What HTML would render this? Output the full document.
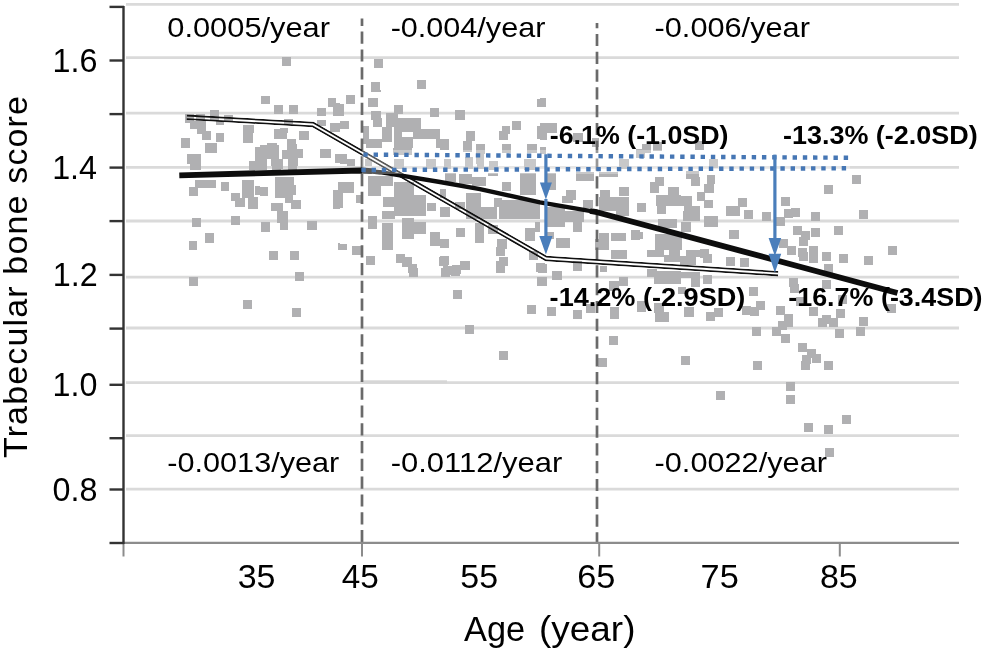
<!DOCTYPE html>
<html><head><meta charset="utf-8"><style>
html,body{margin:0;padding:0;background:#fff;}
body{width:986px;height:650px;overflow:hidden;position:relative;}
svg{position:absolute;left:0;top:0;}
</style></head><body>
<svg width="986" height="650" viewBox="0 0 986 650">
<line x1="126" y1="4.3" x2="959" y2="4.3" stroke="#dadada" stroke-width="2.8"/>
<line x1="126" y1="57.7" x2="959" y2="57.7" stroke="#dadada" stroke-width="2.8"/>
<line x1="126" y1="113.1" x2="959" y2="113.1" stroke="#dadada" stroke-width="2.8"/>
<line x1="126" y1="167.3" x2="959" y2="167.3" stroke="#dadada" stroke-width="2.8"/>
<line x1="126" y1="221.0" x2="959" y2="221.0" stroke="#dadada" stroke-width="2.8"/>
<line x1="126" y1="277.1" x2="959" y2="277.1" stroke="#dadada" stroke-width="2.8"/>
<line x1="126" y1="328.0" x2="959" y2="328.0" stroke="#dadada" stroke-width="2.8"/>
<line x1="126" y1="382.7" x2="959" y2="382.7" stroke="#dadada" stroke-width="2.8"/>
<line x1="126" y1="435.6" x2="959" y2="435.6" stroke="#dadada" stroke-width="2.8"/>
<line x1="126" y1="489.1" x2="959" y2="489.1" stroke="#dadada" stroke-width="2.8"/>
<rect x="362" y="380.3" width="85" height="3.2" fill="#d6d6d6"/>
<g fill="#b0b0b2" shape-rendering="crispEdges"><rect x="281.7" y="57.0" width="9.0" height="9.0"/><rect x="374.0" y="59.3" width="9.0" height="9.0"/><rect x="370.9" y="82.4" width="9.0" height="9.0"/><rect x="416.8" y="79.6" width="9.0" height="9.0"/><rect x="268.6" y="250.9" width="9.0" height="9.0"/><rect x="290.1" y="250.9" width="9.0" height="9.0"/><rect x="189.3" y="277.0" width="9.0" height="9.0"/><rect x="294.7" y="271.7" width="9.0" height="9.0"/><rect x="243.2" y="300.1" width="9.0" height="9.0"/><rect x="291.7" y="307.8" width="9.0" height="9.0"/><rect x="642.4" y="144.0" width="9.0" height="9.0"/><rect x="653.2" y="142.4" width="9.0" height="9.0"/><rect x="636.3" y="148.6" width="9.0" height="9.0"/><rect x="694.7" y="140.9" width="9.0" height="9.0"/><rect x="708.6" y="159.3" width="9.0" height="9.0"/><rect x="737.8" y="197.8" width="9.0" height="9.0"/><rect x="744.0" y="210.1" width="9.0" height="9.0"/><rect x="851.7" y="174.7" width="9.0" height="9.0"/><rect x="824.0" y="184.7" width="9.0" height="9.0"/><rect x="780.9" y="197.0" width="9.0" height="9.0"/><rect x="790.9" y="207.8" width="9.0" height="9.0"/><rect x="784.0" y="209.3" width="9.0" height="9.0"/><rect x="776.3" y="217.0" width="9.0" height="9.0"/><rect x="762.4" y="212.4" width="9.0" height="9.0"/><rect x="810.9" y="212.4" width="9.0" height="9.0"/><rect x="859.3" y="210.1" width="9.0" height="9.0"/><rect x="793.2" y="226.3" width="9.0" height="9.0"/><rect x="800.9" y="230.9" width="9.0" height="9.0"/><rect x="810.9" y="227.8" width="9.0" height="9.0"/><rect x="834.0" y="225.5" width="9.0" height="9.0"/><rect x="799.3" y="237.0" width="9.0" height="9.0"/><rect x="779.3" y="238.6" width="9.0" height="9.0"/><rect x="787.0" y="246.3" width="9.0" height="9.0"/><rect x="797.8" y="247.8" width="9.0" height="9.0"/><rect x="808.6" y="246.3" width="9.0" height="9.0"/><rect x="821.7" y="252.4" width="9.0" height="9.0"/><rect x="838.6" y="254.0" width="9.0" height="9.0"/><rect x="864.0" y="255.5" width="9.0" height="9.0"/><rect x="887.8" y="246.3" width="9.0" height="9.0"/><rect x="799.3" y="252.0" width="9.0" height="9.0"/><rect x="808.6" y="254.0" width="9.0" height="9.0"/><rect x="824.0" y="264.3" width="9.0" height="9.0"/><rect x="788.6" y="278.2" width="9.0" height="9.0"/><rect x="790.1" y="284.3" width="9.0" height="9.0"/><rect x="822.4" y="279.7" width="9.0" height="9.0"/><rect x="748.6" y="286.7" width="9.0" height="9.0"/><rect x="756.3" y="301.3" width="9.0" height="9.0"/><rect x="750.1" y="307.4" width="9.0" height="9.0"/><rect x="776.3" y="305.9" width="9.0" height="9.0"/><rect x="784.0" y="313.6" width="9.0" height="9.0"/><rect x="784.0" y="318.2" width="9.0" height="9.0"/><rect x="777.8" y="321.3" width="9.0" height="9.0"/><rect x="771.7" y="327.4" width="9.0" height="9.0"/><rect x="780.9" y="333.6" width="9.0" height="9.0"/><rect x="751.7" y="327.4" width="9.0" height="9.0"/><rect x="808.6" y="307.4" width="9.0" height="9.0"/><rect x="796.3" y="296.7" width="9.0" height="9.0"/><rect x="837.8" y="295.1" width="9.0" height="9.0"/><rect x="836.3" y="309.0" width="9.0" height="9.0"/><rect x="822.4" y="315.1" width="9.0" height="9.0"/><rect x="817.8" y="318.2" width="9.0" height="9.0"/><rect x="828.6" y="318.2" width="9.0" height="9.0"/><rect x="834.7" y="329.0" width="9.0" height="9.0"/><rect x="859.3" y="316.7" width="9.0" height="9.0"/><rect x="856.3" y="327.4" width="9.0" height="9.0"/><rect x="887.0" y="304.3" width="9.0" height="9.0"/><rect x="797.8" y="342.8" width="9.0" height="9.0"/><rect x="807.0" y="349.0" width="9.0" height="9.0"/><rect x="801.5" y="354.5" width="9.0" height="9.0"/><rect x="811.5" y="353.5" width="9.0" height="9.0"/><rect x="800.5" y="360.5" width="9.0" height="9.0"/><rect x="823.5" y="360.5" width="9.0" height="9.0"/><rect x="752.5" y="360.5" width="9.0" height="9.0"/><rect x="785.5" y="381.5" width="9.0" height="9.0"/><rect x="785.5" y="394.5" width="9.0" height="9.0"/><rect x="803.5" y="422.5" width="9.0" height="9.0"/><rect x="823.5" y="424.5" width="9.0" height="9.0"/><rect x="841.5" y="414.5" width="9.0" height="9.0"/><rect x="824.5" y="447.5" width="9.0" height="9.0"/><rect x="703.2" y="253.6" width="9.0" height="9.0"/><rect x="700.1" y="249.0" width="9.0" height="9.0"/><rect x="726.3" y="256.7" width="9.0" height="9.0"/><rect x="740.1" y="258.2" width="9.0" height="9.0"/><rect x="703.2" y="275.1" width="9.0" height="9.0"/><rect x="714.0" y="307.5" width="9.0" height="9.0"/><rect x="741.7" y="305.9" width="9.0" height="9.0"/><rect x="706.3" y="312.4" width="9.0" height="9.0"/><rect x="609.3" y="336.3" width="9.0" height="9.0"/><rect x="597.8" y="357.8" width="9.0" height="9.0"/><rect x="680.9" y="355.5" width="9.0" height="9.0"/><rect x="716.3" y="390.9" width="9.0" height="9.0"/><rect x="496.3" y="246.7" width="9.0" height="9.0"/><rect x="499.3" y="257.4" width="9.0" height="9.0"/><rect x="496.3" y="263.6" width="9.0" height="9.0"/><rect x="528.6" y="251.3" width="9.0" height="9.0"/><rect x="537.8" y="263.6" width="9.0" height="9.0"/><rect x="460.9" y="260.5" width="9.0" height="9.0"/><rect x="451.7" y="265.1" width="9.0" height="9.0"/><rect x="573.2" y="262.0" width="9.0" height="9.0"/><rect x="551.7" y="271.3" width="9.0" height="9.0"/><rect x="537.8" y="277.4" width="9.0" height="9.0"/><rect x="351.7" y="245.9" width="9.0" height="9.0"/><rect x="366.3" y="255.9" width="9.0" height="9.0"/><rect x="395.5" y="253.6" width="9.0" height="9.0"/><rect x="403.2" y="256.7" width="9.0" height="9.0"/><rect x="407.8" y="264.3" width="9.0" height="9.0"/><rect x="440.1" y="255.9" width="9.0" height="9.0"/><rect x="443.2" y="265.9" width="9.0" height="9.0"/><rect x="460.1" y="261.3" width="9.0" height="9.0"/><rect x="402.2" y="258.3" width="9.0" height="9.0"/><rect x="409.3" y="268.3" width="9.0" height="9.0"/><rect x="439.1" y="256.9" width="9.0" height="9.0"/><rect x="440.5" y="268.3" width="9.0" height="9.0"/><rect x="450.5" y="266.9" width="9.0" height="9.0"/><rect x="460.5" y="261.2" width="9.0" height="9.0"/><rect x="496.0" y="261.2" width="9.0" height="9.0"/><rect x="453.3" y="289.6" width="9.0" height="9.0"/><rect x="535.7" y="262.6" width="9.0" height="9.0"/><rect x="537.1" y="276.8" width="9.0" height="9.0"/><rect x="552.8" y="271.1" width="9.0" height="9.0"/><rect x="572.7" y="261.2" width="9.0" height="9.0"/><rect x="527.2" y="305.2" width="9.0" height="9.0"/><rect x="547.1" y="306.6" width="9.0" height="9.0"/><rect x="572.7" y="309.5" width="9.0" height="9.0"/><rect x="585.5" y="303.8" width="9.0" height="9.0"/><rect x="464.7" y="325.1" width="9.0" height="9.0"/><rect x="498.8" y="350.7" width="9.0" height="9.0"/><rect x="368.3" y="176.2" width="24.6" height="9.9"/><rect x="368.3" y="186.0" width="12.3" height="9.9"/><rect x="394.2" y="182.3" width="19.7" height="33.3"/><rect x="413.9" y="194.6" width="12.3" height="20.9"/><rect x="383.1" y="197.1" width="12.3" height="9.9"/><rect x="381.9" y="210.6" width="13.5" height="8.6"/><rect x="368.3" y="215.6" width="8.6" height="13.5"/><rect x="381.9" y="223.0" width="11.1" height="27.1"/><rect x="401.6" y="218.0" width="12.3" height="20.9"/><rect x="412.7" y="221.7" width="13.5" height="12.3"/><rect x="427.4" y="203.3" width="8.6" height="7.4"/><rect x="429.9" y="231.6" width="10.1" height="14.8"/><rect x="340.0" y="182.3" width="13.5" height="11.1"/><rect x="340.0" y="193.4" width="2.5" height="14.8"/><rect x="356.0" y="194.6" width="7.4" height="8.6"/><rect x="340.0" y="243.9" width="7.4" height="6.2"/><rect x="352.3" y="246.4" width="7.4" height="3.7"/><rect x="209.5" y="110.3" width="9.8" height="10.5"/><rect x="184.9" y="114.0" width="9.2" height="8.6"/><rect x="196.0" y="114.0" width="9.2" height="7.4"/><rect x="224.3" y="115.2" width="8.6" height="6.8"/><rect x="189.8" y="121.4" width="16.0" height="8.0"/><rect x="197.2" y="126.9" width="8.6" height="7.4"/><rect x="202.2" y="130.6" width="8.6" height="9.2"/><rect x="215.7" y="133.1" width="8.6" height="9.2"/><rect x="181.2" y="138.0" width="9.2" height="9.8"/><rect x="204.6" y="142.9" width="12.3" height="9.8"/><rect x="242.8" y="124.5" width="11.1" height="8.6"/><rect x="242.8" y="131.8" width="9.8" height="11.1"/><rect x="215.7" y="120.8" width="8.6" height="4.3"/><rect x="186.8" y="154.0" width="14.2" height="9.8"/><rect x="189.8" y="162.6" width="11.1" height="7.4"/><rect x="255.1" y="146.6" width="4.9" height="17.2"/><rect x="248.9" y="161.4" width="11.1" height="8.6"/><rect x="261.2" y="95.5" width="8.6" height="8.6"/><rect x="273.5" y="105.4" width="9.2" height="8.6"/><rect x="288.9" y="105.4" width="9.2" height="8.6"/><rect x="317.2" y="107.8" width="9.2" height="8.6"/><rect x="327.7" y="98.0" width="8.6" height="8.6"/><rect x="332.6" y="102.9" width="7.4" height="13.5"/><rect x="284.0" y="118.9" width="8.6" height="4.9"/><rect x="317.2" y="120.2" width="8.6" height="5.5"/><rect x="330.2" y="123.2" width="9.8" height="8.6"/><rect x="273.5" y="129.4" width="13.5" height="9.8"/><rect x="279.7" y="128.2" width="8.6" height="4.9"/><rect x="299.4" y="130.6" width="9.2" height="9.2"/><rect x="286.5" y="138.6" width="9.2" height="9.2"/><rect x="260.0" y="145.4" width="18.5" height="13.5"/><rect x="267.4" y="142.9" width="9.8" height="4.9"/><rect x="260.0" y="156.5" width="7.4" height="9.8"/><rect x="271.1" y="156.5" width="7.4" height="9.8"/><rect x="282.2" y="150.3" width="9.8" height="8.6"/><rect x="292.0" y="149.1" width="11.1" height="8.6"/><rect x="287.1" y="144.2" width="9.8" height="7.4"/><rect x="274.8" y="158.9" width="8.6" height="9.8"/><rect x="288.3" y="156.5" width="9.8" height="9.8"/><rect x="320.3" y="149.1" width="11.1" height="8.6"/><rect x="335.1" y="154.0" width="4.9" height="8.6"/><rect x="260.0" y="163.8" width="7.4" height="6.2"/><rect x="272.3" y="165.1" width="8.6" height="4.9"/><rect x="288.3" y="165.1" width="8.6" height="4.9"/><rect x="370.8" y="90.0" width="9.9" height="1.8"/><rect x="345.5" y="94.9" width="9.9" height="9.2"/><rect x="368.3" y="98.0" width="9.2" height="8.6"/><rect x="394.2" y="104.8" width="9.2" height="9.2"/><rect x="429.9" y="107.9" width="9.2" height="9.2"/><rect x="340.0" y="103.5" width="4.3" height="12.9"/><rect x="370.8" y="110.9" width="9.9" height="8.6"/><rect x="373.3" y="118.3" width="8.6" height="8.6"/><rect x="385.6" y="113.4" width="12.3" height="13.5"/><rect x="381.9" y="126.9" width="9.9" height="14.8"/><rect x="394.2" y="118.3" width="27.1" height="13.5"/><rect x="394.2" y="131.9" width="7.4" height="16.0"/><rect x="412.7" y="131.9" width="8.6" height="7.4"/><rect x="401.6" y="136.8" width="11.1" height="11.1"/><rect x="421.3" y="129.4" width="18.5" height="9.9"/><rect x="340.0" y="120.8" width="9.2" height="8.6"/><rect x="363.4" y="125.7" width="5.5" height="18.5"/><rect x="365.9" y="139.3" width="16.0" height="8.6"/><rect x="436.1" y="139.3" width="3.9" height="8.6"/><rect x="393.0" y="147.9" width="18.5" height="7.4"/><rect x="364.6" y="159.0" width="7.4" height="7.4"/><rect x="394.2" y="159.0" width="9.9" height="9.9"/><rect x="426.2" y="159.0" width="9.9" height="9.9"/><rect x="340.0" y="154.0" width="7.4" height="9.9"/><rect x="347.4" y="159.0" width="7.4" height="7.4"/><rect x="455.4" y="110.3" width="9.2" height="9.2"/><rect x="536.7" y="98.6" width="3.3" height="8.6"/><rect x="501.6" y="125.7" width="8.6" height="8.6"/><rect x="498.5" y="130.6" width="9.2" height="9.2"/><rect x="512.0" y="121.4" width="9.2" height="8.6"/><rect x="465.9" y="131.3" width="9.2" height="9.2"/><rect x="463.4" y="140.5" width="8.6" height="11.1"/><rect x="440.0" y="138.6" width="9.2" height="11.7"/><rect x="475.7" y="144.2" width="9.2" height="9.9"/><rect x="475.7" y="154.0" width="8.6" height="9.9"/><rect x="501.6" y="144.2" width="9.2" height="8.6"/><rect x="527.4" y="144.2" width="9.9" height="8.6"/><rect x="536.7" y="125.7" width="3.3" height="13.5"/><rect x="443.7" y="159.0" width="7.4" height="9.9"/><rect x="464.6" y="156.5" width="8.6" height="12.3"/><rect x="476.9" y="159.0" width="7.4" height="9.9"/><rect x="489.3" y="161.4" width="8.6" height="8.6"/><rect x="523.7" y="159.0" width="12.3" height="11.1"/><rect x="540.0" y="98.0" width="6.2" height="8.6"/><rect x="540.0" y="123.3" width="16.6" height="9.2"/><rect x="540.0" y="130.6" width="7.4" height="9.2"/><rect x="573.3" y="133.1" width="9.2" height="8.6"/><rect x="591.7" y="138.0" width="7.4" height="8.6"/><rect x="540.0" y="146.7" width="6.2" height="7.4"/><rect x="618.8" y="159.0" width="9.9" height="9.9"/><rect x="194.8" y="179.8" width="20.9" height="8.6"/><rect x="189.2" y="187.2" width="9.2" height="9.2"/><rect x="220.6" y="182.3" width="8.6" height="8.6"/><rect x="230.5" y="192.8" width="9.8" height="8.6"/><rect x="235.4" y="198.3" width="9.2" height="8.6"/><rect x="241.5" y="179.8" width="12.3" height="18.5"/><rect x="248.3" y="197.1" width="9.2" height="12.3"/><rect x="255.1" y="186.0" width="4.9" height="8.6"/><rect x="191.7" y="218.0" width="9.2" height="9.2"/><rect x="230.5" y="215.5" width="9.2" height="9.2"/><rect x="204.6" y="233.4" width="9.2" height="9.2"/><rect x="189.2" y="240.8" width="7.4" height="9.2"/><rect x="260.0" y="186.6" width="8.0" height="9.2"/><rect x="274.8" y="177.4" width="9.8" height="20.9"/><rect x="284.6" y="177.4" width="9.8" height="8.6"/><rect x="283.4" y="184.8" width="12.3" height="9.8"/><rect x="284.6" y="194.6" width="8.6" height="8.6"/><rect x="291.4" y="200.2" width="9.8" height="8.6"/><rect x="271.1" y="202.6" width="12.3" height="8.6"/><rect x="277.2" y="210.6" width="11.1" height="12.3"/><rect x="279.7" y="219.2" width="8.0" height="10.5"/><rect x="261.2" y="221.7" width="9.2" height="9.8"/><rect x="307.4" y="221.1" width="9.2" height="8.6"/><rect x="332.6" y="189.7" width="7.4" height="19.7"/><rect x="337.5" y="182.3" width="2.5" height="8.6"/><rect x="337.5" y="242.6" width="2.5" height="7.4"/><rect x="444.9" y="172.5" width="11.1" height="9.9"/><rect x="458.5" y="173.7" width="13.5" height="9.9"/><rect x="472.0" y="177.4" width="13.5" height="8.6"/><rect x="488.0" y="172.5" width="9.9" height="3.7"/><rect x="501.6" y="182.3" width="9.2" height="8.6"/><rect x="520.0" y="172.5" width="16.0" height="22.2"/><rect x="440.0" y="188.5" width="6.2" height="9.9"/><rect x="465.9" y="193.4" width="14.8" height="25.9"/><rect x="480.6" y="206.9" width="16.0" height="12.3"/><rect x="494.2" y="198.3" width="7.4" height="8.6"/><rect x="499.1" y="199.6" width="40.9" height="19.7"/><rect x="440.0" y="206.9" width="9.9" height="9.9"/><rect x="454.8" y="202.0" width="9.9" height="7.4"/><rect x="456.0" y="227.9" width="8.6" height="9.2"/><rect x="474.5" y="223.0" width="9.9" height="19.7"/><rect x="440.0" y="239.0" width="9.2" height="8.6"/><rect x="488.0" y="225.4" width="9.9" height="8.6"/><rect x="496.7" y="239.0" width="9.9" height="9.9"/><rect x="525.0" y="227.9" width="9.9" height="13.5"/><rect x="534.8" y="221.7" width="5.2" height="9.9"/><rect x="575.7" y="171.8" width="18.5" height="9.2"/><rect x="599.1" y="171.8" width="18.5" height="5.5"/><rect x="547.4" y="172.5" width="8.6" height="17.2"/><rect x="565.9" y="189.7" width="9.9" height="9.9"/><rect x="562.2" y="195.9" width="11.1" height="7.4"/><rect x="583.1" y="199.6" width="9.9" height="8.6"/><rect x="600.3" y="189.7" width="9.9" height="8.6"/><rect x="599.1" y="197.1" width="29.6" height="13.5"/><rect x="618.8" y="187.2" width="9.9" height="8.6"/><rect x="616.4" y="199.6" width="12.3" height="16.0"/><rect x="637.3" y="203.3" width="2.7" height="8.6"/><rect x="547.4" y="206.9" width="17.2" height="19.7"/><rect x="564.6" y="210.6" width="19.7" height="11.1"/><rect x="573.3" y="219.3" width="8.6" height="12.3"/><rect x="547.4" y="231.6" width="6.2" height="7.4"/><rect x="556.0" y="237.7" width="13.5" height="9.9"/><rect x="599.1" y="232.8" width="9.9" height="11.1"/><rect x="595.4" y="239.0" width="13.5" height="11.1"/><rect x="611.4" y="232.8" width="14.8" height="8.6"/><rect x="631.1" y="230.3" width="8.9" height="9.9"/><rect x="685.6" y="171.2" width="13.5" height="7.4"/><rect x="690.5" y="177.4" width="9.9" height="8.6"/><rect x="706.5" y="174.9" width="8.6" height="8.6"/><rect x="704.0" y="183.5" width="9.9" height="9.9"/><rect x="654.8" y="177.4" width="9.2" height="8.6"/><rect x="649.9" y="182.3" width="8.6" height="11.1"/><rect x="668.3" y="187.2" width="11.1" height="9.9"/><rect x="656.0" y="194.6" width="24.6" height="11.1"/><rect x="680.6" y="195.9" width="11.1" height="9.9"/><rect x="696.7" y="192.2" width="8.6" height="8.6"/><rect x="704.0" y="199.6" width="8.6" height="8.6"/><rect x="640.0" y="203.3" width="6.2" height="8.6"/><rect x="657.2" y="204.5" width="9.2" height="9.2"/><rect x="684.3" y="205.7" width="16.0" height="14.8"/><rect x="683.1" y="210.6" width="11.1" height="9.9"/><rect x="704.0" y="215.6" width="13.5" height="11.1"/><rect x="726.2" y="205.7" width="13.8" height="9.9"/><rect x="657.9" y="219.3" width="19.1" height="8.6"/><rect x="680.6" y="221.7" width="9.9" height="9.9"/><rect x="728.7" y="230.3" width="9.9" height="8.6"/><rect x="654.8" y="234.0" width="27.1" height="16.0"/><rect x="640.0" y="231.6" width="2.5" height="7.4"/><rect x="611.1" y="250.0" width="16.0" height="8.6"/><rect x="646.8" y="250.0" width="17.2" height="7.4"/><rect x="669.0" y="250.0" width="11.1" height="4.9"/><rect x="664.0" y="254.9" width="16.0" height="7.4"/><rect x="680.0" y="256.2" width="16.0" height="8.6"/><rect x="686.2" y="250.0" width="13.8" height="7.4"/><rect x="600.0" y="266.0" width="7.4" height="6.2"/><rect x="646.8" y="268.5" width="9.9" height="8.6"/><rect x="654.2" y="270.9" width="27.1" height="13.5"/><rect x="680.0" y="272.2" width="20.0" height="6.2"/><rect x="618.5" y="277.1" width="9.9" height="8.6"/><rect x="608.6" y="280.8" width="9.9" height="9.9"/><rect x="691.1" y="278.3" width="8.9" height="8.6"/><rect x="677.6" y="286.9" width="8.6" height="7.4"/><rect x="609.9" y="306.7" width="8.6" height="12.3"/><rect x="636.9" y="300.5" width="8.6" height="11.1"/><rect x="654.2" y="303.0" width="9.9" height="9.9"/><rect x="655.4" y="311.6" width="13.5" height="9.9"/><rect x="683.7" y="306.7" width="9.9" height="9.9"/></g>
<line x1="362" y1="18.5" x2="362" y2="543" stroke="#6a6a6a" stroke-width="2.7" stroke-dasharray="12.2 5.6" stroke-dashoffset="4.7"/>
<line x1="597" y1="23" x2="597" y2="543" stroke="#6a6a6a" stroke-width="2.7" stroke-dasharray="12.2 5.6" stroke-dashoffset="6.9"/>
<line x1="123" y1="542.8" x2="959" y2="542.8" stroke="#8c8c8c" stroke-width="2.2"/>
<line x1="123.5" y1="542" x2="123.5" y2="556.5" stroke="#8c8c8c" stroke-width="2"/>
<line x1="362" y1="542" x2="362" y2="556.5" stroke="#8c8c8c" stroke-width="2"/>
<line x1="599.2" y1="542" x2="599.2" y2="556.5" stroke="#8c8c8c" stroke-width="2"/>
<line x1="839.8" y1="542" x2="839.8" y2="556.5" stroke="#8c8c8c" stroke-width="2"/>
<line x1="123.5" y1="5.9" x2="123.5" y2="544" stroke="#333" stroke-width="2.4"/>
<line x1="109.5" y1="6.9" x2="124" y2="6.9" stroke="#333" stroke-width="2.4"/>
<line x1="109.5" y1="60.5" x2="124" y2="60.5" stroke="#333" stroke-width="2.4"/>
<line x1="109.5" y1="114.1" x2="124" y2="114.1" stroke="#333" stroke-width="2.4"/>
<line x1="109.5" y1="167.6" x2="124" y2="167.6" stroke="#333" stroke-width="2.4"/>
<line x1="109.5" y1="221.1" x2="124" y2="221.1" stroke="#333" stroke-width="2.4"/>
<line x1="109.5" y1="274.9" x2="124" y2="274.9" stroke="#333" stroke-width="2.4"/>
<line x1="109.5" y1="328.6" x2="124" y2="328.6" stroke="#333" stroke-width="2.4"/>
<line x1="109.5" y1="384.8" x2="124" y2="384.8" stroke="#333" stroke-width="2.4"/>
<line x1="109.5" y1="438.2" x2="124" y2="438.2" stroke="#333" stroke-width="2.4"/>
<line x1="109.5" y1="489.5" x2="124" y2="489.5" stroke="#333" stroke-width="2.4"/>
<line x1="109.5" y1="543.0" x2="124" y2="543.0" stroke="#333" stroke-width="2.4"/>
<mask id="dm" maskUnits="userSpaceOnUse" x="0" y="0" width="986" height="650"><polyline points="186.6,117.3 312.8,124.5 546.2,258.5 778.2,273.7" fill="none" stroke="#fff" stroke-width="5.4"/><polyline points="186.6,117.3 312.8,124.5 546.2,258.5 778.2,273.7" fill="none" stroke="#000" stroke-width="1.8"/></mask>
<polyline points="186.6,117.3 312.8,124.5 546.2,258.5 778.2,273.7" fill="none" stroke="#111" stroke-width="5.4" mask="url(#dm)"/>
<polyline points="179.3,175.3 361,170.5 372,171.2" fill="none" stroke="#0d0d0d" stroke-width="5.8" stroke-linejoin="round"/>
<polyline points="361,170.5 380,172.2 400,175.4 440,182 480,189.2 540,202.3 597,212.2" fill="none" stroke="#0d0d0d" stroke-width="4.4" stroke-linejoin="round"/>
<polyline points="590,211 597,212.2 897.5,293" fill="none" stroke="#0d0d0d" stroke-width="5.8" stroke-linejoin="round"/>
<rect x="362" y="150" width="488" height="24" fill="#fff" fill-opacity="0.3"/>
<line x1="848.1" y1="157.8" x2="363" y2="154.6" stroke="#4576b4" stroke-width="4.4" stroke-dasharray="4.4 5.82"/>
<line x1="846.1" y1="168.3" x2="361" y2="170" stroke="#4576b4" stroke-width="4.4" stroke-dasharray="4.4 5.82"/>
<line x1="545.9" y1="154.2" x2="545.9" y2="184.5" stroke="#4a7ebb" stroke-width="3.2"/><polygon points="539.9,182.5 551.9,182.5 545.9,199.5" fill="#4a7ebb"/>
<line x1="545.9" y1="199" x2="545.9" y2="238.0" stroke="#4a7ebb" stroke-width="3.2"/><polygon points="539.3,236.0 552.5,236.0 545.9,254.5" fill="#4a7ebb"/>
<line x1="774.9" y1="154.6" x2="774.9" y2="240" stroke="#4a7ebb" stroke-width="3.2"/><polygon points="768.6,238 781.1999999999999,238 774.9,256" fill="#4a7ebb"/>
<line x1="774.9" y1="256" x2="774.9" y2="255.8" stroke="#4a7ebb" stroke-width="3.2"/><polygon points="768.6,253.8 781.1999999999999,253.8 774.9,272.8" fill="#4a7ebb"/>
<g font-family="&quot;Liberation Sans&quot;, sans-serif"><text transform="translate(52.49,71.90) scale(0.9790,1)" font-size="33" font-weight="400" fill="#000">1.6</text>
<text transform="translate(52.16,179.00) scale(0.9790,1)" font-size="33" font-weight="400" fill="#000">1.4</text>
<text transform="translate(52.81,286.30) scale(0.9790,1)" font-size="33" font-weight="400" fill="#000">1.2</text>
<text transform="translate(52.49,396.20) scale(0.9790,1)" font-size="33" font-weight="400" fill="#000">1.0</text>
<text transform="translate(52.49,500.90) scale(0.9790,1)" font-size="33" font-weight="400" fill="#000">0.8</text>
<text transform="translate(237.64,588.30) scale(1.0297,1)" font-size="33" font-weight="400" fill="#000">35</text>
<text transform="translate(341.73,588.30) scale(1.0101,1)" font-size="33" font-weight="400" fill="#000">45</text>
<text transform="translate(460.34,588.30) scale(1.0297,1)" font-size="33" font-weight="400" fill="#000">55</text>
<text transform="translate(577.28,588.30) scale(1.0398,1)" font-size="33" font-weight="400" fill="#000">65</text>
<text transform="translate(700.58,588.30) scale(1.0398,1)" font-size="33" font-weight="400" fill="#000">75</text>
<text transform="translate(819.94,588.30) scale(1.0297,1)" font-size="33" font-weight="400" fill="#000">85</text>
<text transform="translate(464.10,640.60) scale(0.9952,1)" font-size="34.5" font-weight="400" fill="#000">Age</text>
<text transform="translate(538.98,640.60) scale(1.0710,1)" font-size="34.5" font-weight="400" fill="#000">(year)</text>
<text transform="translate(27.3,458) rotate(-90)" font-size="34" textLength="362" lengthAdjust="spacing">Trabecular bone score</text>
<text transform="translate(167.27,37.40) scale(1.0892,1)" font-size="28.3" font-weight="400" fill="#000">0.0005/year</text>
<text transform="translate(390.68,37.40) scale(1.0806,1)" font-size="28.3" font-weight="400" fill="#000">-0.004/year</text>
<text transform="translate(654.57,37.40) scale(1.0855,1)" font-size="28.3" font-weight="400" fill="#000">-0.006/year</text>
<text transform="translate(167.27,472.00) scale(1.0829,1)" font-size="28.3" font-weight="400" fill="#000">-0.0013/year</text>
<text transform="translate(390.66,472.00) scale(1.0949,1)" font-size="28.3" font-weight="400" fill="#000">-0.0112/year</text>
<text transform="translate(654.57,472.00) scale(1.0855,1)" font-size="28.3" font-weight="400" fill="#000">-0.0022/year</text>
<text transform="translate(549.73,144.20) scale(1.0602,1)" font-size="25.3" font-weight="700" fill="#000">-6.1% (-1.0SD)</text>
<text transform="translate(782.92,144.40) scale(1.0662,1)" font-size="25.3" font-weight="700" fill="#000">-13.3% (-2.0SD)</text>
<text transform="translate(549.62,306.30) scale(1.0712,1)" font-size="25.3" font-weight="700" fill="#000">-14.2% (-2.9SD)</text>
<text transform="translate(788.22,305.70) scale(1.0634,1)" font-size="25.3" font-weight="700" fill="#000">-16.7% (-3.4SD)</text></g>
</svg>
</body></html>
